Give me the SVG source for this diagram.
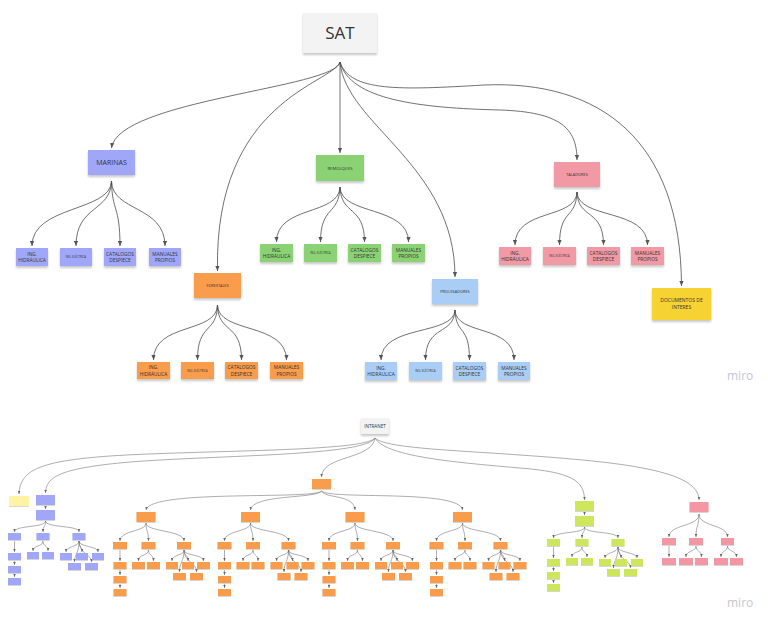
<svg xmlns="http://www.w3.org/2000/svg" width="768" height="623" viewBox="0 0 768 623">
<defs>
<style>
.c{fill:none;stroke:#4d4d4d;stroke-width:.8;marker-end:url(#ah)}
.cs{fill:none;stroke:#6a6a6a;stroke-width:.55;marker-end:url(#ahs)}
.t{font-family:"Open Sans","Liberation Sans",sans-serif;fill:#333;text-anchor:middle}
.sat{fill:#f3f3f3}
.mar{fill:#a0a7f8}
.rem{fill:#8bd275}
.for{fill:#f99c4c}
.pro{fill:#a9cdf4}
.tal{fill:#f199a4}
.doc{fill:#f6d330}
.lime{fill:#cde65c}
.pyel{fill:#fff4a3}
.pk{fill:#f397a3}
.n rect{filter:url(#sh)}
.s rect{filter:url(#shs)}
.miro{font-family:"Open Sans","Liberation Sans",sans-serif;font-size:12px;fill:#c4c6cf}
</style>
<filter id="sh" x="-20%" y="-20%" width="140%" height="170%"><feDropShadow dx="0" dy="2" stdDeviation="1.3" flood-color="#000" flood-opacity=".22"/></filter>
<filter id="shs" x="-20%" y="-20%" width="140%" height="170%"><feDropShadow dx="0" dy="0.8" stdDeviation="0.5" flood-color="#000" flood-opacity=".2"/></filter>
<marker id="ah" viewBox="0 0 6 6" refX="6" refY="3" markerWidth="5" markerHeight="5" markerUnits="userSpaceOnUse" orient="auto"><path d="M0,0.5 L6,3 L0,5.5 z" fill="#555"/></marker>
<marker id="ahs" viewBox="0 0 6 6" refX="6" refY="3" markerWidth="3" markerHeight="3" markerUnits="userSpaceOnUse" orient="auto"><path d="M0,0.5 L6,3 L0,5.5 z" fill="#666"/></marker>
</defs>
<rect width="768" height="623" fill="#fff"/>

<g id="connectors">
<!-- SAT -->
<path class="c" d="M340,62 C336,88 118,100 111.5,148"/>
<path class="c" d="M340,62 C332,84 214,100 217.5,271"/>
<path class="c" d="M340,62 L340,153"/>
<path class="c" d="M340,62 C346,125 455,165 455,277"/>
<path class="c" d="M340,62 C350,100 420,108 500,110 C560,112 577,128 577,160"/>
<path class="c" d="M340,62 C350,92 400,90 484,85 C600,80 681,140 681.5,286"/>
<!-- MARINAS -->
<path class="c" d="M111.5,181 C111,212 32,205 32,246"/>
<path class="c" d="M111.5,181 C111,212 76,205 76,246"/>
<path class="c" d="M111.5,181 C112,212 120,205 120,246"/>
<path class="c" d="M111.5,181 C112,212 165,205 165,246"/>
<!-- REMOLQUES -->
<path class="c" d="M340,187 C339,216 276.5,205 276.5,242"/>
<path class="c" d="M340,187 C339,216 320.5,205 320.5,242"/>
<path class="c" d="M340,187 C341,216 364.5,205 364.5,242"/>
<path class="c" d="M340,187 C341,216 408.5,205 408.5,242"/>
<!-- FORESTALES -->
<path class="c" d="M217.5,305 C217,334 153.5,322 153.5,360"/>
<path class="c" d="M217.5,305 C217,334 197.5,322 197.5,360"/>
<path class="c" d="M217.5,305 C218,334 241.5,322 241.5,360"/>
<path class="c" d="M217.5,305 C218,334 286.5,322 286.5,360"/>
<!-- PROCESADORES -->
<path class="c" d="M455,310 C454,336 381,324 381,360"/>
<path class="c" d="M455,310 C454,336 425.5,324 425.5,360"/>
<path class="c" d="M455,310 C456,336 469.5,324 469.5,360"/>
<path class="c" d="M455,310 C456,336 514,324 514,360"/>
<!-- TALADORES -->
<path class="c" d="M577,192 C576,220 515,208 515,245"/>
<path class="c" d="M577,192 C576,220 559.5,208 559.5,245"/>
<path class="c" d="M577,192 C578,220 603.5,208 603.5,245"/>
<path class="c" d="M577,192 C578,220 647.5,208 647.5,245"/>
<!-- INTRANET -->
<path class="cs" d="M375,438 C365,452 200,450 110,456 C40,461 20,470 19,494"/>
<path class="cs" d="M375,438 C365,456 220,455 130,462 C62,468 46,476 45.5,493"/>
<path class="cs" d="M375,438 C372,460 322,455 321.5,477"/>
<path class="cs" d="M375,438 C385,456 450,462 520,468 C570,472 584.5,480 584.5,500"/>
<path class="cs" d="M375,438 C385,448 450,450 520,455 C620,462 699,470 699,500"/>
<!-- orange main -->
<path class="cs" d="M321.5,491 C315,500 150,489 146,510"/>
<path class="cs" d="M321.5,491 C316,499 252,494 250.5,510"/>
<path class="cs" d="M321.5,491 C326,499 354,494 355,510"/>
<path class="cs" d="M321.5,491 C330,500 460,489 462.5,510"/>
<!-- orange clusters -->
<g transform="translate(146,512)">
<path class="cs" d="M0,11 C0,20 -26,18 -26,29"/><path class="cs" d="M0,11 C0,20 2.5,18 2.5,29"/><path class="cs" d="M0,11 C0,20 38,18 38,29"/>
<path class="cs" d="M-26,38 V49"/><path class="cs" d="M-26,58 V63"/><path class="cs" d="M-26,72 V76"/>
<path class="cs" d="M2.5,38 C2.5,44 -7.5,42 -7.5,49"/><path class="cs" d="M2.5,38 C2.5,44 7.5,42 7.5,49"/>
<path class="cs" d="M38,38 C38,44 26,42 26,49"/><path class="cs" d="M38,38 C38,44 42,42 42,49"/><path class="cs" d="M38,38 C38,44 57.5,42 57.5,49"/><path class="cs" d="M38,38 C38,50 33.5,50 33.5,60"/><path class="cs" d="M38,38 C38,50 50.5,50 50.5,60"/>
</g>
<g transform="translate(250.5,512)">
<path class="cs" d="M0,11 C0,20 -26,18 -26,29"/><path class="cs" d="M0,11 C0,20 2.5,18 2.5,29"/><path class="cs" d="M0,11 C0,20 38,18 38,29"/>
<path class="cs" d="M-26,38 V49"/><path class="cs" d="M-26,58 V63"/><path class="cs" d="M-26,72 V76"/>
<path class="cs" d="M2.5,38 C2.5,44 -7.5,42 -7.5,49"/><path class="cs" d="M2.5,38 C2.5,44 7.5,42 7.5,49"/>
<path class="cs" d="M38,38 C38,44 26,42 26,49"/><path class="cs" d="M38,38 C38,44 42,42 42,49"/><path class="cs" d="M38,38 C38,44 57.5,42 57.5,49"/><path class="cs" d="M38,38 C38,50 33.5,50 33.5,60"/><path class="cs" d="M38,38 C38,50 50.5,50 50.5,60"/>
</g>
<g transform="translate(355,512)">
<path class="cs" d="M0,11 C0,20 -26,18 -26,29"/><path class="cs" d="M0,11 C0,20 2.5,18 2.5,29"/><path class="cs" d="M0,11 C0,20 38,18 38,29"/>
<path class="cs" d="M-26,38 V49"/><path class="cs" d="M-26,58 V63"/><path class="cs" d="M-26,72 V76"/>
<path class="cs" d="M2.5,38 C2.5,44 -7.5,42 -7.5,49"/><path class="cs" d="M2.5,38 C2.5,44 7.5,42 7.5,49"/>
<path class="cs" d="M38,38 C38,44 26,42 26,49"/><path class="cs" d="M38,38 C38,44 42,42 42,49"/><path class="cs" d="M38,38 C38,44 57.5,42 57.5,49"/><path class="cs" d="M38,38 C38,50 33.5,50 33.5,60"/><path class="cs" d="M38,38 C38,50 50.5,50 50.5,60"/>
</g>
<g transform="translate(462.5,512)">
<path class="cs" d="M0,11 C0,20 -26,18 -26,29"/><path class="cs" d="M0,11 C0,20 2.5,18 2.5,29"/><path class="cs" d="M0,11 C0,20 38,18 38,29"/>
<path class="cs" d="M-26,38 V49"/><path class="cs" d="M-26,58 V63"/><path class="cs" d="M-26,72 V76"/>
<path class="cs" d="M2.5,38 C2.5,44 -7.5,42 -7.5,49"/><path class="cs" d="M2.5,38 C2.5,44 7.5,42 7.5,49"/>
<path class="cs" d="M38,38 C38,44 26,42 26,49"/><path class="cs" d="M38,38 C38,44 42,42 42,49"/><path class="cs" d="M38,38 C38,44 57.5,42 57.5,49"/><path class="cs" d="M38,38 C38,50 33.5,50 33.5,60"/><path class="cs" d="M38,38 C38,50 50.5,50 50.5,60"/>
</g>
<!-- blue & green clusters -->
<g transform="translate(45.5,510)">
<path class="cs" d="M0,-4 V-1"/>
<path class="cs" d="M0,11 C0,18 -31,15 -31,22"/><path class="cs" d="M0,11 C0,18 -2.5,15 -2.5,22"/><path class="cs" d="M0,11 C0,18 33.5,15 33.5,22"/>
<path class="cs" d="M-31,31 V42"/><path class="cs" d="M-31,51 V55"/><path class="cs" d="M-31,64 V67"/>
<path class="cs" d="M-2.5,31 C-2.5,37 -12.5,35 -12.5,41"/><path class="cs" d="M-2.5,31 C-2.5,37 2.5,35 2.5,41"/>
<path class="cs" d="M33.5,31 C33.5,37 20.5,36 20.5,42"/><path class="cs" d="M33.5,31 C33.5,37 36.5,36 36.5,42"/><path class="cs" d="M33.5,31 C33.5,37 52.5,36 52.5,42"/><path class="cs" d="M33.5,31 C33.5,44 29,44 29,52"/><path class="cs" d="M33.5,31 C33.5,44 46,44 46,52"/>
</g>
<g transform="translate(584.5,516)">
<path class="cs" d="M0,-4 V-1"/>
<path class="cs" d="M0,11 C0,18 -31,15 -31,22"/><path class="cs" d="M0,11 C0,18 -2.5,15 -2.5,22"/><path class="cs" d="M0,11 C0,18 33.5,15 33.5,22"/>
<path class="cs" d="M-31,31 V42"/><path class="cs" d="M-31,51 V55"/><path class="cs" d="M-31,64 V67"/>
<path class="cs" d="M-2.5,31 C-2.5,37 -12.5,35 -12.5,41"/><path class="cs" d="M-2.5,31 C-2.5,37 2.5,35 2.5,41"/>
<path class="cs" d="M33.5,31 C33.5,37 20.5,36 20.5,42"/><path class="cs" d="M33.5,31 C33.5,37 36.5,36 36.5,42"/><path class="cs" d="M33.5,31 C33.5,37 52.5,36 52.5,42"/><path class="cs" d="M33.5,31 C33.5,44 29,44 29,52"/><path class="cs" d="M33.5,31 C33.5,44 46,44 46,52"/>
</g>
<!-- pink cluster -->
<g transform="translate(699,502)">
<path class="cs" d="M0,12 C0,25 -30,22 -30,35"/><path class="cs" d="M0,12 C0,25 -3,22 -3,35"/><path class="cs" d="M0,12 C0,25 28.5,22 28.5,35"/>
<path class="cs" d="M-30,44 V55"/>
<path class="cs" d="M-3,44 C-3,50 -13,48 -13,55"/><path class="cs" d="M-3,44 C-3,50 2.5,48 2.5,55"/>
<path class="cs" d="M28.5,44 C28.5,50 22,48 22,55"/><path class="cs" d="M28.5,44 C28.5,50 37.5,48 37.5,55"/>
</g>
</g>

<!-- TOP NODES -->
<g id="sat" class="n"><rect class="sat" x="303" y="13" width="74" height="40"/><text class="t" x="340" y="39" font-size="17">SAT</text></g>

<g id="marinas" class="n"><rect class="mar" x="88" y="150" width="47" height="25"/><text class="t" x="111.5" y="165" font-size="7">MARINAS</text></g>
<g id="mar-ing" class="n"><rect class="mar" x="16" y="248" width="32" height="18"/><text class="t" x="32" y="255.5" font-size="4.8">ING.</text><text class="t" x="32" y="262" font-size="4.8">HIDRÁULICA</text></g>
<g id="mar-ele" class="n"><rect class="mar" x="60" y="248" width="32" height="18"/><text class="t" x="76" y="258" font-size="2.8">ING. ELÉCTRICA</text></g>
<g id="mar-cat" class="n"><rect class="mar" x="104" y="248" width="32" height="18"/><text class="t" x="120" y="255.5" font-size="4.8">CATALOGOS</text><text class="t" x="120" y="262" font-size="4.8">DESPIECE</text></g>
<g id="mar-man" class="n"><rect class="mar" x="149" y="248" width="32" height="18"/><text class="t" x="165" y="255.5" font-size="4.8">MANUALES</text><text class="t" x="165" y="262" font-size="4.8">PROPIOS</text></g>

<g id="remolques" class="n"><rect class="rem" x="316" y="155" width="48" height="26"/><text class="t" x="340" y="169.5" font-size="4.2">REMOLQUES</text></g>
<g id="rem-ing" class="n"><rect class="rem" x="260" y="244" width="33" height="18"/><text class="t" x="276.5" y="251.5" font-size="4.8">ING.</text><text class="t" x="276.5" y="258" font-size="4.8">HIDRÁULICA</text></g>
<g id="rem-ele" class="n"><rect class="rem" x="304" y="244" width="33" height="18"/><text class="t" x="320.5" y="254" font-size="2.8">ING. ELÉCTRICA</text></g>
<g id="rem-cat" class="n"><rect class="rem" x="348" y="244" width="33" height="18"/><text class="t" x="364.5" y="251.5" font-size="4.8">CATALOGOS</text><text class="t" x="364.5" y="258" font-size="4.8">DESPIECE</text></g>
<g id="rem-man" class="n"><rect class="rem" x="392" y="244" width="33" height="18"/><text class="t" x="408.5" y="251.5" font-size="4.8">MANUALES</text><text class="t" x="408.5" y="258" font-size="4.8">PROPIOS</text></g>

<g id="forestales" class="n"><rect class="for" x="194" y="273" width="47" height="25"/><text class="t" x="217.5" y="287" font-size="3.8">FORESTALES</text></g>
<g id="for-ing" class="n"><rect class="for" x="137" y="362" width="33" height="17"/><text class="t" x="153.5" y="369" font-size="4.8">ING.</text><text class="t" x="153.5" y="375.5" font-size="4.8">HIDRÁULICA</text></g>
<g id="for-ele" class="n"><rect class="for" x="181" y="362" width="33" height="17"/><text class="t" x="197.5" y="371.5" font-size="2.8">ING. ELÉCTRICA</text></g>
<g id="for-cat" class="n"><rect class="for" x="225" y="362" width="33" height="17"/><text class="t" x="241.5" y="369" font-size="4.8">CATALOGOS</text><text class="t" x="241.5" y="375.5" font-size="4.8">DESPIECE</text></g>
<g id="for-man" class="n"><rect class="for" x="270" y="362" width="33" height="17"/><text class="t" x="286.5" y="369" font-size="4.8">MANUALES</text><text class="t" x="286.5" y="375.5" font-size="4.8">PROPIOS</text></g>

<g id="procesadores" class="n"><rect class="pro" x="432" y="279" width="46" height="25"/><text class="t" x="455" y="293" font-size="3.9">PROCESADORES</text></g>
<g id="pro-ing" class="n"><rect class="pro" x="365" y="362" width="32" height="18"/><text class="t" x="381" y="369.5" font-size="4.8">ING.</text><text class="t" x="381" y="376" font-size="4.8">HIDRÁULICA</text></g>
<g id="pro-ele" class="n"><rect class="pro" x="409" y="362" width="33" height="18"/><text class="t" x="425.5" y="372" font-size="2.8">ING. ELÉCTRICA</text></g>
<g id="pro-cat" class="n"><rect class="pro" x="453" y="362" width="33" height="18"/><text class="t" x="469.5" y="369.5" font-size="4.8">CATALOGOS</text><text class="t" x="469.5" y="376" font-size="4.8">DESPIECE</text></g>
<g id="pro-man" class="n"><rect class="pro" x="498" y="362" width="32" height="18"/><text class="t" x="514" y="369.5" font-size="4.8">MANUALES</text><text class="t" x="514" y="376" font-size="4.8">PROPIOS</text></g>

<g id="taladores" class="n"><rect class="tal" x="554" y="162" width="46" height="25"/><text class="t" x="577" y="176" font-size="3.9">TALADORES</text></g>
<g id="tal-ing" class="n"><rect class="tal" x="499" y="247" width="32" height="18"/><text class="t" x="515" y="254.5" font-size="4.8">ING.</text><text class="t" x="515" y="261" font-size="4.8">HIDRÁULICA</text></g>
<g id="tal-ele" class="n"><rect class="tal" x="543" y="247" width="33" height="18"/><text class="t" x="559.5" y="257" font-size="2.8">ING. ELÉCTRICA</text></g>
<g id="tal-cat" class="n"><rect class="tal" x="587" y="247" width="33" height="18"/><text class="t" x="603.5" y="254.5" font-size="4.8">CATALOGOS</text><text class="t" x="603.5" y="261" font-size="4.8">DESPIECE</text></g>
<g id="tal-man" class="n"><rect class="tal" x="631" y="247" width="33" height="18"/><text class="t" x="647.5" y="254.5" font-size="4.8">MANUALES</text><text class="t" x="647.5" y="261" font-size="4.8">PROPIOS</text></g>

<g id="documentos" class="n"><rect class="doc" x="652" y="288" width="59" height="32"/><text class="t" x="681.5" y="302" font-size="5">DOCUMENTOS DE</text><text class="t" x="681.5" y="309" font-size="5">INTERES</text></g>

<text class="miro" x="727" y="380">miro</text>

<!-- BOTTOM -->
<g id="intranet" class="n"><rect class="sat" x="361" y="418" width="28" height="16"/><text class="t" x="375" y="428" font-size="4.6">INTRANET</text></g>
<g id="b-yellow" class="s"><rect class="pyel" x="9" y="496" width="20" height="10"/></g>
<g id="b-orange-main" class="s"><rect class="for" x="312" y="479" width="19" height="10"/></g>

<g id="orange1" class="s" transform="translate(146,512)">
<g id="o1-p"><rect class="for" x="-9.5" y="0" width="19" height="10"/></g>
<g id="o1-a"><rect class="for" x="-33" y="30" width="14" height="7"/></g>
<g id="o1-b"><rect class="for" x="-4.5" y="30" width="14" height="7"/></g>
<g id="o1-c"><rect class="for" x="31" y="30" width="14" height="7"/></g>
<g id="o1-a1"><rect class="for" x="-32.5" y="50" width="13" height="7"/></g>
<g id="o1-a2"><rect class="for" x="-32.5" y="64" width="13" height="7"/></g>
<g id="o1-a3"><rect class="for" x="-32.5" y="77" width="13" height="7"/></g>
<g id="o1-b1"><rect class="for" x="-14" y="50" width="13" height="7"/></g>
<g id="o1-b2"><rect class="for" x="1" y="50" width="13" height="7"/></g>
<g id="o1-c1"><rect class="for" x="20" y="50" width="12" height="7"/></g>
<g id="o1-c2"><rect class="for" x="36" y="50" width="12" height="7"/></g>
<g id="o1-c3"><rect class="for" x="51" y="50" width="13" height="7"/></g>
<g id="o1-c4"><rect class="for" x="27" y="61" width="13" height="7"/></g>
<g id="o1-c5"><rect class="for" x="44" y="61" width="13" height="7"/></g>
</g>
<g id="orange2" class="s" transform="translate(250.5,512)">
<g id="o2-p"><rect class="for" x="-9.5" y="0" width="19" height="10"/></g>
<g id="o2-a"><rect class="for" x="-33" y="30" width="14" height="7"/></g>
<g id="o2-b"><rect class="for" x="-4.5" y="30" width="14" height="7"/></g>
<g id="o2-c"><rect class="for" x="31" y="30" width="14" height="7"/></g>
<g id="o2-a1"><rect class="for" x="-32.5" y="50" width="13" height="7"/></g>
<g id="o2-a2"><rect class="for" x="-32.5" y="64" width="13" height="7"/></g>
<g id="o2-a3"><rect class="for" x="-32.5" y="77" width="13" height="7"/></g>
<g id="o2-b1"><rect class="for" x="-14" y="50" width="13" height="7"/></g>
<g id="o2-b2"><rect class="for" x="1" y="50" width="13" height="7"/></g>
<g id="o2-c1"><rect class="for" x="20" y="50" width="12" height="7"/></g>
<g id="o2-c2"><rect class="for" x="36" y="50" width="12" height="7"/></g>
<g id="o2-c3"><rect class="for" x="51" y="50" width="13" height="7"/></g>
<g id="o2-c4"><rect class="for" x="27" y="61" width="13" height="7"/></g>
<g id="o2-c5"><rect class="for" x="44" y="61" width="13" height="7"/></g>
</g>
<g id="orange3" class="s" transform="translate(355,512)">
<g id="o3-p"><rect class="for" x="-9.5" y="0" width="19" height="10"/></g>
<g id="o3-a"><rect class="for" x="-33" y="30" width="14" height="7"/></g>
<g id="o3-b"><rect class="for" x="-4.5" y="30" width="14" height="7"/></g>
<g id="o3-c"><rect class="for" x="31" y="30" width="14" height="7"/></g>
<g id="o3-a1"><rect class="for" x="-32.5" y="50" width="13" height="7"/></g>
<g id="o3-a2"><rect class="for" x="-32.5" y="64" width="13" height="7"/></g>
<g id="o3-a3"><rect class="for" x="-32.5" y="77" width="13" height="7"/></g>
<g id="o3-b1"><rect class="for" x="-14" y="50" width="13" height="7"/></g>
<g id="o3-b2"><rect class="for" x="1" y="50" width="13" height="7"/></g>
<g id="o3-c1"><rect class="for" x="20" y="50" width="12" height="7"/></g>
<g id="o3-c2"><rect class="for" x="36" y="50" width="12" height="7"/></g>
<g id="o3-c3"><rect class="for" x="51" y="50" width="13" height="7"/></g>
<g id="o3-c4"><rect class="for" x="27" y="61" width="13" height="7"/></g>
<g id="o3-c5"><rect class="for" x="44" y="61" width="13" height="7"/></g>
</g>
<g id="orange4" class="s" transform="translate(462.5,512)">
<g id="o4-p"><rect class="for" x="-9.5" y="0" width="19" height="10"/></g>
<g id="o4-a"><rect class="for" x="-33" y="30" width="14" height="7"/></g>
<g id="o4-b"><rect class="for" x="-4.5" y="30" width="14" height="7"/></g>
<g id="o4-c"><rect class="for" x="31" y="30" width="14" height="7"/></g>
<g id="o4-a1"><rect class="for" x="-32.5" y="50" width="13" height="7"/></g>
<g id="o4-a2"><rect class="for" x="-32.5" y="64" width="13" height="7"/></g>
<g id="o4-a3"><rect class="for" x="-32.5" y="77" width="13" height="7"/></g>
<g id="o4-b1"><rect class="for" x="-14" y="50" width="13" height="7"/></g>
<g id="o4-b2"><rect class="for" x="1" y="50" width="13" height="7"/></g>
<g id="o4-c1"><rect class="for" x="20" y="50" width="12" height="7"/></g>
<g id="o4-c2"><rect class="for" x="36" y="50" width="12" height="7"/></g>
<g id="o4-c3"><rect class="for" x="51" y="50" width="13" height="7"/></g>
<g id="o4-c4"><rect class="for" x="27" y="61" width="13" height="7"/></g>
<g id="o4-c5"><rect class="for" x="44" y="61" width="13" height="7"/></g>
</g>

<g id="blue" class="s" transform="translate(45.5,510)">
<g id="bl-t"><rect class="mar" x="-9.5" y="-15" width="19" height="10"/></g>
<g id="bl-s"><rect class="mar" x="-9.5" y="0" width="19" height="10"/></g>
<g id="bl-a"><rect class="mar" x="-37.5" y="23" width="13" height="7"/></g>
<g id="bl-b"><rect class="mar" x="-9" y="23" width="13" height="7"/></g>
<g id="bl-c"><rect class="mar" x="27" y="23" width="13" height="7"/></g>
<g id="bl-a1"><rect class="mar" x="-37.5" y="43" width="13" height="7"/></g>
<g id="bl-a2"><rect class="mar" x="-37.5" y="56" width="13" height="7"/></g>
<g id="bl-a3"><rect class="mar" x="-37.5" y="68" width="13" height="7"/></g>
<g id="bl-b1"><rect class="mar" x="-18.5" y="42" width="12" height="7"/></g>
<g id="bl-b2"><rect class="mar" x="-3.5" y="42" width="12" height="7"/></g>
<g id="bl-c1"><rect class="mar" x="14.5" y="43" width="12" height="7"/></g>
<g id="bl-c2"><rect class="mar" x="30.5" y="43" width="12" height="7"/></g>
<g id="bl-c3"><rect class="mar" x="46.5" y="43" width="12" height="7"/></g>
<g id="bl-c4"><rect class="mar" x="22.5" y="53" width="13" height="7"/></g>
<g id="bl-c5"><rect class="mar" x="39.5" y="53" width="13" height="7"/></g>
</g>

<g id="green" class="s" transform="translate(584.5,516)">
<g id="gr-t"><rect class="lime" x="-9.5" y="-15" width="19" height="10"/></g>
<g id="gr-s"><rect class="lime" x="-9.5" y="0" width="19" height="10"/></g>
<g id="gr-a"><rect class="lime" x="-37.5" y="23" width="13" height="7"/></g>
<g id="gr-b"><rect class="lime" x="-9" y="23" width="13" height="7"/></g>
<g id="gr-c"><rect class="lime" x="27" y="23" width="13" height="7"/></g>
<g id="gr-a1"><rect class="lime" x="-37.5" y="43" width="13" height="7"/></g>
<g id="gr-a2"><rect class="lime" x="-37.5" y="56" width="13" height="7"/></g>
<g id="gr-a3"><rect class="lime" x="-37.5" y="68" width="13" height="7"/></g>
<g id="gr-b1"><rect class="lime" x="-18.5" y="42" width="12" height="7"/></g>
<g id="gr-b2"><rect class="lime" x="-3.5" y="42" width="12" height="7"/></g>
<g id="gr-c1"><rect class="lime" x="14.5" y="43" width="12" height="7"/></g>
<g id="gr-c2"><rect class="lime" x="30.5" y="43" width="12" height="7"/></g>
<g id="gr-c3"><rect class="lime" x="46.5" y="43" width="12" height="7"/></g>
<g id="gr-c4"><rect class="lime" x="22.5" y="53" width="13" height="7"/></g>
<g id="gr-c5"><rect class="lime" x="39.5" y="53" width="13" height="7"/></g>
</g>

<g id="pink" class="s" transform="translate(699,502)">
<g id="pk-p"><rect class="pk" x="-9.5" y="0" width="19" height="10"/></g>
<g id="pk-a"><rect class="pk" x="-37" y="36" width="14" height="7"/></g>
<g id="pk-b"><rect class="pk" x="-10" y="36" width="14" height="7"/></g>
<g id="pk-c"><rect class="pk" x="22" y="36" width="13" height="7"/></g>
<g id="pk-a1"><rect class="pk" x="-37" y="56" width="14" height="7"/></g>
<g id="pk-b1"><rect class="pk" x="-20" y="56" width="14" height="7"/></g>
<g id="pk-b2"><rect class="pk" x="-4" y="56" width="13" height="7"/></g>
<g id="pk-c1"><rect class="pk" x="15" y="56" width="14" height="7"/></g>
<g id="pk-c2"><rect class="pk" x="31" y="56" width="13" height="7"/></g>
</g>

<text class="miro" x="727" y="607">miro</text>
</svg>
